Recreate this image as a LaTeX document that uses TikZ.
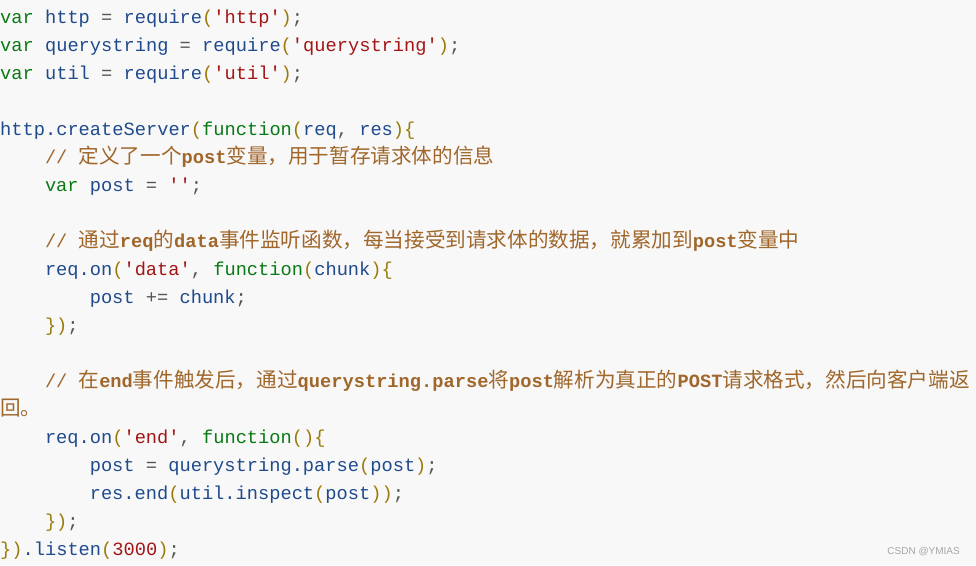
\documentclass[tikz,border=0pt]{standalone}
\usepackage{fontspec}
\setmonofont{Liberation Mono}
\newfontfamily\cjkfam{Noto Sans CJK SC}
\newfontfamily\wmfont{Liberation Sans}
\definecolor{bgc}{HTML}{F8F8F8}
\definecolor{kw}{HTML}{0A7A14}
\definecolor{idc}{HTML}{1F4A8C}
\definecolor{strc}{HTML}{A31515}
\definecolor{pc}{HTML}{9A7B0A}
\definecolor{opc}{HTML}{555555}
\definecolor{cmc}{HTML}{A0662A}
\newcommand\K[1]{\textcolor{kw}{#1}}
\newcommand\I[1]{\textcolor{idc}{#1}}
\newcommand\St[1]{\textcolor{strc}{#1}}
\newcommand\Pc[1]{\textcolor{pc}{#1}}
\newcommand\Op[1]{\textcolor{opc}{#1}}
\newcommand\Cm[1]{\textcolor{cmc}{#1}}
\newcommand\B[1]{\textbf{#1}}
\newcommand\zh[1]{{\cjkfam\fontsize{20.6}{20}\selectfont #1}}
\tikzset{codeline/.style={anchor=base west,inner sep=0pt,font=\ttfamily\fontsize{18.7}{20}\selectfont}}
\begin{document}
\begin{tikzpicture}[x=1pt,y=1pt]
\fill[bgc] (0,0) rectangle (976,-565);
\useasboundingbox (0,0) rectangle (976,-565);
\def\ind{44.8}
\node[codeline] (l1) at (0,-23) {\K{var} \I{http} \Op{=} \I{require}\Pc{(}\St{'http'}\Pc{)}\Op{;}};
\node[codeline] (l2) at (0,-51) {\K{var} \I{querystring} \Op{=} \I{require}\Pc{(}\St{'querystring'}\Pc{)}\Op{;}};
\node[codeline] (l3) at (0,-79) {\K{var} \I{util} \Op{=} \I{require}\Pc{(}\St{'util'}\Pc{)}\Op{;}};
\node[codeline] (l5) at (0,-135) {\I{http.createServer}\Pc{(}\K{function}\Pc{(}\I{req}\Op{,} \I{res}\Pc{)\{}};
\node[codeline] (l6) at (\ind,-163) {\Cm{// \zh{定义了一个}\B{post}\zh{变量，用于暂存请求体的信息}}};
\node[codeline] (l7) at (\ind,-191) {\K{var} \I{post} \Op{=} \St{''}\Op{;}};
\node[codeline] (l9) at (\ind,-247) {\Cm{// \zh{通过}\B{req}\zh{的}\B{data}\zh{事件监听函数，每当接受到请求体的数据，就累加到}\B{post}\zh{变量中}}};
\node[codeline] (l10) at (\ind,-275) {\I{req.on}\Pc{(}\St{'data'}\Op{,} \K{function}\Pc{(}\I{chunk}\Pc{)\{}};
\node[codeline] (l11) at (2*\ind,-303) {\I{post} \Op{+=} \I{chunk}\Op{;}};
\node[codeline] (l12) at (\ind,-331) {\Pc{\})}\Op{;}};
\node[codeline] (l14) at (\ind,-387) {\Cm{// \zh{在}\B{end}\zh{事件触发后，通过}\B{querystring.parse}\zh{将}\B{post}\zh{解析为真正的}\B{POST}\zh{请求格式，然后向客户端返}}};
\node[codeline] (l14b) at (0,-415) {\Cm{\zh{回。}}};
\node[codeline] (l15) at (\ind,-443) {\I{req.on}\Pc{(}\St{'end'}\Op{,} \K{function}\Pc{()\{}};
\node[codeline] (l16) at (2*\ind,-471) {\I{post} \Op{=} \I{querystring.parse}\Pc{(}\I{post}\Pc{)}\Op{;}};
\node[codeline] (l17) at (2*\ind,-499) {\I{res.end}\Pc{(}\I{util.inspect}\Pc{(}\I{post}\Pc{))}\Op{;}};
\node[codeline] (l18) at (\ind,-527) {\Pc{\})}\Op{;}};
\node[codeline] (l19) at (0,-555) {\Pc{\})}\I{.listen}\Pc{(}\St{3000}\Pc{)}\Op{;}};
\node[anchor=base east,inner sep=0pt,font=\wmfont\fontsize{10}{11}\selectfont,text=gray!70] (wm) at (960,-554) {CSDN @YMIAS};
\end{tikzpicture}
\end{document}
